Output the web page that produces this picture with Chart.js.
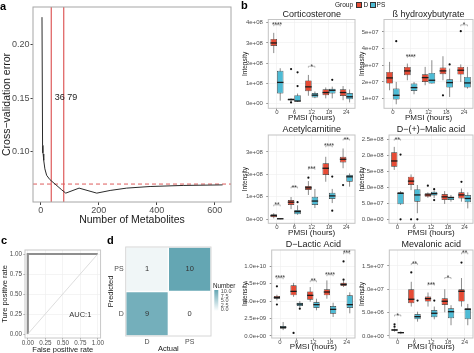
<!DOCTYPE html>
<html>
<head>
<meta charset="utf-8">
<script src="https://cdn.jsdelivr.net/npm/chart.js@4.4.1/dist/chart.umd.min.js"></script>
<style>
  body { margin: 0; background: #fff; width: 474px; height: 353px; position: relative; overflow: hidden;
         font-family: "Liberation Sans", Arial, sans-serif; }
  canvas { position: absolute; }
  .tag { position: absolute; font-weight: bold; font-size: 11px; line-height: 11px; color: #000; }
  #grp { position: absolute; left: 335px; top: 1px; font-size: 6.5px; line-height: 8px; color: #1a1a1a; white-space: nowrap; }
  .key { display: inline-block; width: 4px; height: 4px; border: 0.5px solid #333; margin: 0 1px 0 1.5px; vertical-align: -0.5px; }
</style>
</head>
<body>
<canvas id="cvA" width="236" height="228" style="left:0;top:0"></canvas>
<canvas id="cvC" width="104" height="123" style="left:0;top:232px"></canvas>
<canvas id="cvD" width="136" height="123" style="left:104px;top:232px"></canvas>
<canvas id="bx1" width="117" height="123" style="left:240px;top:0"></canvas>
<canvas id="bx2" width="117" height="123" style="left:357px;top:0"></canvas>
<canvas id="bx3" width="117" height="115" style="left:240px;top:123px"></canvas>
<canvas id="bx4" width="117" height="115" style="left:357px;top:123px"></canvas>
<canvas id="bx5" width="117" height="117" style="left:240px;top:238px"></canvas>
<canvas id="bx6" width="117" height="117" style="left:357px;top:238px"></canvas>

<div class="tag" style="left:0;top:0.5px">a</div>
<div class="tag" style="left:241px;top:0">b</div>
<div class="tag" style="left:1px;top:234.5px">c</div>
<div class="tag" style="left:107px;top:234.5px">d</div>
<div id="grp">Group <i class="key" style="background:#E64B35"></i>D<i class="key" style="background:#4DBBD5"></i>PS</div>

<script>
// ---- a: cross-validation error vs number of metabolites
const cvCount = [4, 6, 7, 8, 10, 14, 20, 31, 49, 72, 86, 132, 193, 239, 296, 377, 491, 627];
const cvError = [0.226, 0.106, 0.099, 0.098, 0.092, 0.084, 0.078, 0.074, 0.0698, 0.0644, 0.0613,
                 0.066, 0.0613, 0.0638, 0.066, 0.0675, 0.0685, 0.069];
const cvCutoffs = [36, 79];
const cvThreshold = 0.0698;
const cvTicksX = [0, 200, 400, 600];
const cvTicksY = [0.10, 0.15, 0.20];

// ---- c: ROC
const rocFpr = [0, 0, 1];
const rocTpr = [0, 1, 1];
const rocTicks = [0, 0.25, 0.5, 0.75, 1];
const aucText = 'AUC:1';

// ---- d: confusion matrix (rows = predicted, cols = actual)
const classes = ['D', 'PS'];
const predictedD = [9, 0];
const predictedPS = [1, 10];
const legendTicks = [0, 2.5, 5, 7.5, 10];

// ---- b: box plots, each entry [min, q1, median, q3, max] per PMSI time
const pmsi = ['0', '6', '12', '18', '24'];
const groupColors = ['#E64B35', '#4DBBD5'];

// Corticosterone (x1e8)
const corticoD = [[2.5, 2.85, 3.0, 3.2, 3.5], [0.1, 0.17, 0.2, 0.25, 0.27], [0.39, 0.61, 0.83, 1.15, 1.42], [0.26, 0.42, 0.55, 0.71, 0.8], [0.17, 0.38, 0.55, 0.71, 0.87]];
const corticoPS = [[0.15, 0.5, 1.05, 1.63, 1.75], [0.08, 0.1, 0.13, 0.42, 0.5], [0.27, 0.31, 0.42, 0.53, 0.6], [0.26, 0.5, 0.66, 0.74, 0.84], [0.06, 0.22, 0.34, 0.53, 0.7]];
const corticoOutD = [[], [1.71, 0.06], [], [], []];
const corticoOutPS = [[], [1.55, 0.87], [], [1.18], []];
const corticoSig = ['****', '', '*', '', ''];
const corticoSigY = [3.9, null, 1.85, null, null];

// ß hydroxybutyrate (x1e7)
const betaD = [[1.5, 1.9, 2.24, 2.6, 3.2], [2.1, 2.4, 2.66, 2.9, 3.1], [1.8, 2.0, 2.26, 2.46, 2.9], [2.1, 2.46, 2.66, 2.86, 3.54], [2.0, 2.44, 2.7, 2.9, 3.05]];
const betaPS = [[0.66, 0.94, 1.2, 1.6, 2.0], [1.26, 1.46, 1.66, 1.9, 2.0], [1.9, 1.9, 2.1, 2.54, 3.3], [1.1, 1.66, 1.96, 2.16, 2.8], [1.6, 1.66, 1.94, 2.3, 2.9]];
const betaOutD = [[], [], [], [1.2], [5.04]];
const betaOutPS = [[4.44], [], [], [3.05], []];
const betaSig = ['', '****', '', '', '*'];
const betaSigY = [null, 3.54, null, null, 5.42];

// Acetylcarnitine (x1e8)
const acetylD = [[0.04, 0.09, 0.16, 0.22, 0.27], [0.45, 0.64, 0.76, 0.86, 0.99], [1.08, 1.3, 1.4, 1.48, 1.7], [1.67, 1.97, 2.27, 2.49, 2.78], [2.27, 2.53, 2.67, 2.78, 3.15]];
const acetylPS = [[0, 0.01, 0.02, 0.04, 0.05], [0.2, 0.22, 0.34, 0.41, 0.62], [0.5, 0.64, 0.81, 1.0, 1.35], [0.72, 0.9, 1.04, 1.18, 1.35], [1.45, 1.67, 1.89, 1.97, 2.04]];
const acetylOutD = [[], [], [1.85], [], [1.52]];
const acetylOutPS = [[], [0.76], [], [1.9, 0.38], []];
const acetylSig = ['**', '**', '***', '****', '**'];
const acetylSigY = [0.64, 1.44, 2.27, 3.27, 3.57];

// D-(+)-Malic acid (x1e8)
const malicD = [[1.54, 1.64, 1.82, 2.09, 2.26], [0.91, 1.07, 1.19, 1.33, 1.4], [0.67, 0.7, 0.76, 0.81, 0.84], [0.48, 0.6, 0.7, 0.79, 0.88], [0.55, 0.65, 0.76, 0.84, 0.96]];
const malicPS = [[0.45, 0.47, 0.81, 0.84, 0.88], [0.19, 0.55, 0.76, 0.94, 1.07], [0.66, 0.74, 0.8, 0.86, 0.9], [0.55, 0.6, 0.68, 0.7, 0.76], [0.34, 0.53, 0.65, 0.76, 0.84]];
const malicOutD = [[], [0], [1.05], [], [1.17]];
const malicOutPS = [[2.02, 0], [0], [0.94, 0.6], [], []];
const malicSig = ['**', '', '', '', ''];
const malicSigY = [2.5, null, null, null, null];

// D-Lactic Acid (x1e9)
const lacticD = [[5.1, 5.33, 5.48, 5.71, 5.9], [5.6, 5.81, 6.38, 7.24, 7.6], [4.9, 5.19, 5.81, 6.38, 7.0], [5.33, 5.81, 6.29, 6.67, 7.95], [7.0, 7.14, 7.38, 7.62, 7.9]];
const lacticPS = [[0.84, 1.05, 1.24, 1.43, 2.0], [4.1, 4.29, 4.57, 4.76, 5.0], [3.67, 4.0, 4.48, 4.86, 5.33], [2.71, 3.19, 3.81, 4.29, 4.76], [3.24, 4.0, 4.48, 5.81, 6.24]];
const lacticOutD = [[7.1, 4.5], [0.43], [], [], [10.67, 8.05]];
const lacticOutPS = [[], [3.9], [], [], []];
const lacticSig = ['****', '', '**', '****', '***'];
const lacticSigY = [8.33, null, 7.9, 8.76, 11.9];

// Mevalonic acid (x1e6)
const mevalD = [[0.93, 1.14, 1.29, 1.43, 1.6], [6.3, 7.0, 7.86, 10.0, 11.6], [6.3, 7.36, 8.0, 8.43, 9.3], [5.07, 6.64, 7.43, 8.07, 10.0], [6.3, 7.36, 9.57, 10.0, 12.4]];
const mevalPS = [[0.4, 0.57, 0.71, 0.86, 1.0], [3.07, 3.57, 4.14, 4.71, 5.2], [3.57, 4.0, 4.86, 5.57, 6.3], [2.3, 3.79, 5.2, 5.93, 6.6], [2.3, 3.57, 5.71, 5.93, 6.86]];
const mevalOutD = [[2.5, 2.0], [13.6], [], [], [15.7]];
const mevalOutPS = [[], [7.57], [7.57], [], []];
const mevalSig = ['*', '**', '***', '*', '**'];
const mevalSigY = [4.5, 15.5, 11.1, 12.5, 17.8];

Chart.defaults.font.family = '"Liberation Sans", Arial, sans-serif';
Chart.defaults.color = '#4d4d4d';
Chart.defaults.animation = false;
Chart.defaults.plugins.legend.display = false;
Chart.defaults.plugins.tooltip.enabled = false;

const FONT = '"Liberation Sans", Arial, sans-serif';
const sci = (v, d) => v.toExponential(d).replace(/e([+-])(\d)$/, 'e$10$2');

// panel border drawn over the data
const frame = (color) => ({
  id: 'frame',
  afterDatasetsDraw(chart) {
    const { ctx, chartArea: a } = chart;
    ctx.save();
    ctx.strokeStyle = color;
    ctx.lineWidth = 1;
    ctx.strokeRect(a.left, a.top, a.right - a.left, a.bottom - a.top);
    ctx.restore();
  }
});

// ---------------- a
new Chart(document.getElementById('cvA'), {
  type: 'line',
  data: {
    datasets: [
      { data: cvCount.map((x, i) => ({ x, y: cvError[i] })), borderColor: '#2b2b2b', borderWidth: 1, pointRadius: 0 },
      ...cvCutoffs.map(c => ({ data: [{ x: c, y: 0.053 }, { x: c, y: 0.2355 }], borderColor: '#de5b5b', borderWidth: 1.2, pointRadius: 0 })),
      { data: [{ x: -27, y: cvThreshold }, { x: 656, y: cvThreshold }], borderColor: '#de5b5b', borderWidth: 1, borderDash: [4, 3], pointRadius: 0 }
    ]
  },
  options: {
    responsive: false, devicePixelRatio: 1,
    layout: { padding: { top: 7, right: 5, left: 0, bottom: 0 } },
    scales: {
      x: {
        type: 'linear', min: -27, max: 656,
        afterBuildTicks: s => { s.ticks = cvTicksX.map(v => ({ value: v })); },
        grid: { drawOnChartArea: false, tickLength: 3, tickColor: '#444' },
        border: { display: false },
        ticks: { font: { size: 9 }, padding: 0, color: '#4d4d4d' },
        title: { display: true, text: 'Number of Metabolites', color: '#1a1a1a', font: { size: 10.5 }, padding: { top: 0, bottom: 1.7 } },
        afterFit: s => { s.height = 26; }
      },
      y: {
        type: 'linear', min: 0.053, max: 0.2355,
        afterBuildTicks: s => { s.ticks = cvTicksY.map(v => ({ value: v })); },
        grid: { drawOnChartArea: false, tickLength: 2.5, tickColor: '#444' },
        border: { display: false },
        ticks: { font: { size: 9 }, padding: 1, color: '#4d4d4d', callback: v => v.toFixed(2) },
        title: { display: true, text: 'Cross\u2212validation error', color: '#1a1a1a', font: { size: 10.5 }, padding: { top: 0.7, bottom: 0 } },
        afterFit: s => { s.width = 33; }
      }
    }
  },
  plugins: [frame('#a6a6a6'), {
    id: 'cutLabels',
    afterDatasetsDraw(chart) {
      const { ctx, scales: { x, y } } = chart;
      ctx.save();
      ctx.font = '9px ' + FONT;
      ctx.fillStyle = '#1a1a1a';
      ctx.textBaseline = 'middle';
      cvCutoffs.forEach(c => ctx.fillText(String(c), x.getPixelForValue(c) + 3.5, y.getPixelForValue(0.151)));
      ctx.restore();
    }
  }]
});

// ---------------- c
new Chart(document.getElementById('cvC'), {
  type: 'line',
  data: {
    datasets: [
      { data: [{ x: 0, y: 0 }, { x: 1, y: 1 }], borderColor: '#d4d4d4', borderWidth: 0.8, pointRadius: 0 },
      { data: rocFpr.map((x, i) => ({ x, y: rocTpr[i] })), borderColor: '#8e8e8e', borderWidth: 2.2, pointRadius: 0 }
    ]
  },
  options: {
    responsive: false, devicePixelRatio: 1,
    layout: { padding: { top: 18, right: 3, left: 0, bottom: 0 } },
    scales: {
      x: {
        type: 'linear', min: -0.04, max: 1.04,
        afterBuildTicks: s => { s.ticks = rocTicks.map(v => ({ value: v })); },
        grid: { color: '#ececec', lineWidth: 0.6, tickLength: 1.5, tickColor: '#555' },
        border: { display: false },
        ticks: { font: { size: 6.3 }, padding: 0, color: '#4d4d4d', callback: v => v.toFixed(2) },
        title: { display: true, text: 'False positive rate', color: '#1a1a1a', font: { size: 7.5 }, padding: { top: 0, bottom: 0.5 } },
        afterFit: s => { s.height = 17; }
      },
      y: {
        type: 'linear', min: -0.05, max: 1.05,
        afterBuildTicks: s => { s.ticks = rocTicks.map(v => ({ value: v })); },
        grid: { color: '#ececec', lineWidth: 0.6, tickLength: 1.5, tickColor: '#555' },
        border: { display: false },
        ticks: { font: { size: 6.3 }, padding: 1.5, color: '#4d4d4d', callback: v => v.toFixed(2) },
        title: { display: true, text: 'Ture positive rate', color: '#1a1a1a', font: { size: 7.5 }, padding: { top: 0.5, bottom: 0 } },
        afterFit: s => { s.width = 25; }
      }
    }
  },
  plugins: [frame('#c8c8c8'), {
    id: 'auc',
    afterDatasetsDraw(chart) {
      const { ctx, scales: { x, y } } = chart;
      ctx.save();
      ctx.font = '7.5px ' + FONT;
      ctx.fillStyle = '#333';
      ctx.textAlign = 'center';
      ctx.textBaseline = 'middle';
      ctx.fillText(aucText, x.getPixelForValue(0.75), y.getPixelForValue(0.24));
      ctx.restore();
    }
  }]
});

// ---------------- d
const lowRGB = [255, 255, 255], highRGB = [100, 166, 179];
const tileColor = v => 'rgb(' + lowRGB.map((c, k) => Math.round(c + (highRGB[k] - c) * v / 10)).join(',') + ')';
const confusion = [predictedD, predictedPS];

new Chart(document.getElementById('cvD'), {
  type: 'bar',
  data: {
    labels: classes,
    datasets: confusion.map((row, i) => ({
      label: classes[i], data: row.map(() => 1),
      backgroundColor: row.map(tileColor), borderColor: '#ffffff', borderWidth: 1, borderSkipped: false,
      barPercentage: 1, categoryPercentage: 1
    }))
  },
  options: {
    responsive: false, devicePixelRatio: 1,
    layout: { padding: { top: 15, right: 29, left: 0, bottom: 0 } },
    scales: {
      x: {
        stacked: true,
        grid: { display: false, drawTicks: false }, border: { display: false },
        ticks: { font: { size: 7 }, padding: 2, color: '#4d4d4d' },
        title: { display: true, text: 'Actual', color: '#1a1a1a', font: { size: 7.5 }, padding: { top: 0, bottom: 1.5 } },
        afterFit: s => { s.height = 19; }
      },
      y: {
        stacked: true, min: 0, max: 2,
        afterBuildTicks: s => { s.ticks = classes.map((c, i) => ({ value: i + 0.5 })); },
        grid: { display: false, drawTicks: false }, border: { display: false },
        ticks: { font: { size: 7 }, padding: 2, color: '#4d4d4d', callback: v => classes[Math.floor(v)] },
        title: { display: true, text: 'Predicted', color: '#1a1a1a', font: { size: 7.5 }, padding: { top: 2.5, bottom: 0 } },
        afterFit: s => { s.width = 21.7; }
      }
    }
  },
  plugins: [frame('#d6d6d6'), {
    id: 'cells',
    afterDatasetsDraw(chart) {
      const { ctx, chartArea: a } = chart;
      ctx.save();
      ctx.font = '7.5px ' + FONT;
      ctx.fillStyle = '#333';
      ctx.textAlign = 'center';
      ctx.textBaseline = 'middle';
      confusion.forEach((row, i) => {
        chart.getDatasetMeta(i).data.forEach((b, j) => ctx.fillText(String(row[j]), b.x, (b.y + b.base) / 2));
      });
      // colour bar legend
      const bx = a.right + 3.3, top = a.top + 43, bot = a.top + 64;
      const g = ctx.createLinearGradient(0, bot, 0, top);
      g.addColorStop(0, tileColor(0));
      g.addColorStop(1, tileColor(10));
      ctx.fillStyle = g;
      ctx.fillRect(bx, top, 4, bot - top);
      ctx.fillStyle = '#1a1a1a';
      ctx.textAlign = 'left';
      ctx.font = '6.3px ' + FONT;
      ctx.fillText('Number', a.right + 2, a.top + 39);
      ctx.fillStyle = '#4d4d4d';
      ctx.font = '5.5px ' + FONT;
      legendTicks.forEach(v => {
        const yy = bot - 1.5 - (bot - top - 3) * v / 10;
        ctx.fillText(v.toFixed(1), bx + 6.5, yy);
      });
      ctx.restore();
    }
  }]
});

// ---------------- b
const boxDecor = o => ({
  id: 'boxDecor',
  beforeDatasetsDraw(chart) {
    const { ctx, scales: { y } } = chart;
    ctx.save();
    ctx.strokeStyle = '#5a5a5a';
    ctx.lineWidth = 0.7;
    [o.d, o.ps].forEach((st, di) => {
      const meta = chart.getDatasetMeta(di);
      st.forEach((s, j) => {
        const b = meta.data[j];
        ctx.beginPath();
        ctx.moveTo(b.x, y.getPixelForValue(s[0] * o.unit));
        ctx.lineTo(b.x, y.getPixelForValue(s[4] * o.unit));
        ctx.stroke();
      });
    });
    ctx.restore();
  },
  afterDatasetsDraw(chart) {
    const { ctx, chartArea: a, scales: { y } } = chart;
    ctx.save();
    [[o.d, o.outD], [o.ps, o.outPS]].forEach(([st, outs], di) => {
      const meta = chart.getDatasetMeta(di);
      st.forEach((s, j) => {
        const b = meta.data[j];
        const py = y.getPixelForValue(s[2] * o.unit);
        ctx.strokeStyle = '#1a1a1a';
        ctx.lineWidth = 1.3;
        ctx.beginPath();
        ctx.moveTo(b.x - b.width / 2, py);
        ctx.lineTo(b.x + b.width / 2, py);
        ctx.stroke();
        ctx.fillStyle = '#111';
        outs[j].forEach(v => {
          ctx.beginPath();
          ctx.arc(b.x, y.getPixelForValue(v * o.unit), 1.1, 0, Math.PI * 2);
          ctx.fill();
        });
      });
    });
    const mD = chart.getDatasetMeta(0), mP = chart.getDatasetMeta(1);
    ctx.font = '6.5px ' + FONT;
    ctx.textAlign = 'center';
    ctx.textBaseline = 'alphabetic';
    o.sig.forEach((lab, j) => {
      if (!lab) return;
      const x1 = mD.data[j].x, x2 = mP.data[j].x, py = y.getPixelForValue(o.sigY[j] * o.unit);
      ctx.strokeStyle = '#8a8a8a';
      ctx.lineWidth = 0.6;
      ctx.beginPath();
      ctx.moveTo(x1, py + 1.5); ctx.lineTo(x1, py); ctx.lineTo(x2, py); ctx.lineTo(x2, py + 1.5);
      ctx.stroke();
      ctx.fillStyle = '#333';
      ctx.fillText(lab, (x1 + x2) / 2, py + 2.6);
    });
    // panel title, centred over the plotting area as in ggplot
    ctx.font = '9px ' + FONT;
    ctx.fillStyle = '#1a1a1a';
    ctx.textBaseline = 'middle';
    ctx.fillText(o.title, (a.left + a.right) / 2, o.titleY);
    ctx.restore();
  }
});

function boxChart(id, o) {
  const boxes = arr => arr.map(s => [s[1] * o.unit, s[3] * o.unit]);
  const ds = (label, arr, color) => ({
    label, data: boxes(arr), backgroundColor: color, borderColor: '#333', borderWidth: 0.7,
    borderSkipped: false, categoryPercentage: 0.75, barPercentage: 1
  });
  return new Chart(document.getElementById(id), {
    type: 'bar',
    data: { labels: pmsi, datasets: [ds('D', o.d, groupColors[0]), ds('PS', o.ps, groupColors[1])] },
    options: {
      responsive: false, devicePixelRatio: 1,
      layout: { padding: { top: o.padT, right: o.padR, left: 0, bottom: 0 } },
      scales: {
        x: {
          grid: { color: '#efefef', lineWidth: 0.6, offset: false, tickLength: 2, tickColor: '#444' },
          border: { display: false },
          ticks: { font: { size: 6, lineHeight: 1 }, padding: -1, color: '#4d4d4d' },
          title: { display: true, text: 'PMSI (hours)', color: '#1a1a1a', font: { size: 8 }, padding: { top: 0, bottom: o.xtBot } },
          afterFit: s => { s.height = o.xH; }
        },
        y: {
          min: o.range[0] * o.unit, max: o.range[1] * o.unit,
          afterBuildTicks: s => { s.ticks = o.ticks.map(v => ({ value: v * o.unit })); },
          grid: { color: '#efefef', lineWidth: 0.6, tickLength: 2, tickColor: '#444' },
          border: { display: false },
          ticks: { font: { size: 6 }, padding: 3.5, color: '#4d4d4d', callback: v => sci(v, o.digits) },
          title: { display: true, text: 'Intensity', color: '#1a1a1a', font: { size: 6.5 }, padding: { top: 1, bottom: 0 } },
          afterFit: s => { s.width = o.yW; }
        }
      }
    },
    plugins: [frame('#c4c4c4'), boxDecor(o)]
  });
}

const row1 = { padT: 19.5, titleY: 15, xH: 14.7, xtBot: 0 };
const row2 = { padT: 12, titleY: 7, xH: 14.7, xtBot: 0 };
const row3 = { padT: 12, titleY: 6.5, xH: 17, xtBot: 3.7 };

boxChart('bx1', { ...row1, title: 'Corticosterone', unit: 1e8, range: [-0.23, 4.16], ticks: [0, 1, 2, 3, 4], digits: 0, yW: 28.3, padR: 2,
  d: corticoD, ps: corticoPS, outD: corticoOutD, outPS: corticoOutPS, sig: corticoSig, sigY: corticoSigY });
boxChart('bx2', { ...row1, title: '\u00df hydroxybutyrate', unit: 1e7, range: [0.42, 5.74], ticks: [1, 2, 3, 4, 5], digits: 0, yW: 27, padR: 1,
  d: betaD, ps: betaPS, outD: betaOutD, outPS: betaOutPS, sig: betaSig, sigY: betaSigY });
boxChart('bx3', { ...row2, title: 'Acetylcarnitine', unit: 1e8, range: [-0.18, 3.75], ticks: [0, 1, 2, 3], digits: 0, yW: 28.3, padR: 2,
  d: acetylD, ps: acetylPS, outD: acetylOutD, outPS: acetylOutPS, sig: acetylSig, sigY: acetylSigY });
boxChart('bx4', { ...row2, title: 'D\u2212(+)\u2212Malic acid', unit: 1e8, range: [-0.125, 2.63], ticks: [0, 0.5, 1, 1.5, 2, 2.5], digits: 1, yW: 32, padR: 1,
  d: malicD, ps: malicPS, outD: malicOutD, outPS: malicOutPS, sig: malicSig, sigY: malicSigY });
boxChart('bx5', { ...row3, title: 'D\u2212Lactic Acid', unit: 1e9, range: [-0.29, 12.3], ticks: [0, 2.5, 5, 7.5, 10], digits: 1, yW: 31.7, padR: 2,
  d: lacticD, ps: lacticPS, outD: lacticOutD, outPS: lacticOutPS, sig: lacticSig, sigY: lacticSigY });
boxChart('bx6', { ...row3, title: 'Mevalonic acid', unit: 1e6, range: [-0.43, 18.4], ticks: [0, 5, 10, 15], digits: 1, yW: 32.3, padR: 1,
  d: mevalD, ps: mevalPS, outD: mevalOutD, outPS: mevalOutPS, sig: mevalSig, sigY: mevalSigY });
</script>
</body>
</html>
